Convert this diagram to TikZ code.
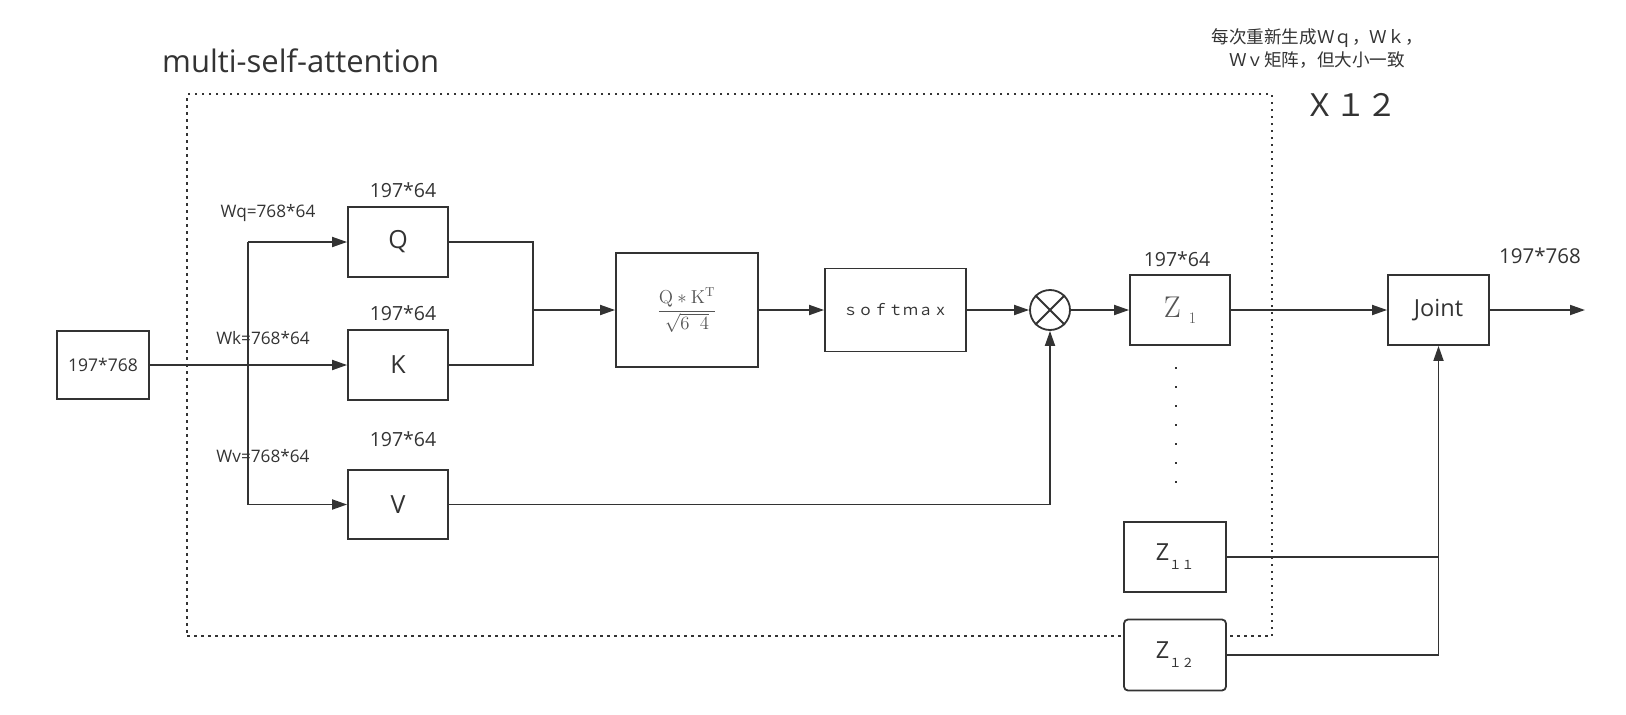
\documentclass[tikz,border=0pt]{standalone}
\usepackage{fontspec}
\newfontfamily\osf{Open Sans}
\newfontfamily\cjk{Noto Sans CJK SC}
\usetikzlibrary{arrows.meta}
\definecolor{ink}{HTML}{333333}
\definecolor{soft}{HTML}{555555}
\begin{document}
\begin{tikzpicture}[x=1pt,y=-1pt,
  ln/.style={draw=ink,line width=1.8pt},
  arr/.style={ln,-{Triangle[length=15pt,width=10pt]}},
  box/.style={ln,fill=white,text=ink,inner sep=0pt},
  lab/.style={text=ink,inner sep=0pt,font=\osf\fontsize{19.5}{22}\selectfont},
  wlab/.style={text=ink,inner sep=0pt,font=\osf\fontsize{17.2}{20}\selectfont},
  frame/.style={draw=ink,line width=1.8pt,dash pattern=on 2.5pt off 4.5pt,inner sep=0pt}]
\useasboundingbox (0,0) rectangle (1626,715);
\node[frame,minimum width=1085,minimum height=542] (fr) at (729.5,365) {};
% nodes
\node[box,minimum width=92,minimum height=68,font=\osf\fontsize{17.5}{20}\selectfont] (in) at (103,365) {197*768};
\node[box,minimum width=100,minimum height=70,font=\osf\fontsize{25}{30}\selectfont] (Q) at (398,242) {Q};
\node[box,minimum width=100,minimum height=70,font=\osf\fontsize{25}{30}\selectfont] (K) at (398,365) {K};
\node[box,minimum width=100,minimum height=69,font=\osf\fontsize{25}{30}\selectfont] (V) at (398,504.5) {V};
\node[box,minimum width=142,minimum height=114,text=soft,font=\fontsize{14.4}{17}\selectfont] (frac) at (687,310) {\scalebox{1.3}{$\displaystyle\frac{\mathrm{Q}\ast\mathrm{K}^{\mathrm{T}}}{\sqrt{6\;\;4}}$}};
\node[box,minimum width=141,minimum height=83,text=ink,font=\cjk\fontsize{15}{18}\selectfont] (sm) at (895.5,310) {ｓｏｆｔｍａｘ};
\node[box,circle,minimum size=40] (mul) at (1050,310) {};
\draw[ln] (mul.north west) -- (mul.south east);
\draw[ln] (mul.north east) -- (mul.south west);
\node[box,minimum width=100,minimum height=70,text=soft] (Z1) at (1180,310) {\rmfamily\fontsize{30}{34}\selectfont Z\hspace{8pt}\raisebox{-6pt}{\fontsize{16}{18}\selectfont 1}};
\node[box,minimum width=102,minimum height=70] (Z11) at (1175,556.7) {\osf\fontsize{23.5}{27}\selectfont Z\raisebox{-9pt}{\cjk\fontsize{12.5}{14}\selectfont １１}};
\node[box,rounded corners=4pt,minimum width=102,minimum height=71] (Z12) at (1175,655) {\osf\fontsize{23.5}{27}\selectfont Z\raisebox{-9pt}{\cjk\fontsize{12.5}{14}\selectfont １２}};
\node[box,minimum width=101,minimum height=70,font=\osf\fontsize{23.5}{28}\selectfont] (J) at (1438.5,310) {Joint};
% labels
\node[lab] (lq) at (403,190) {197*64};
\node[lab] (lk) at (403,313) {197*64};
\node[lab] (lv) at (403,439.5) {197*64};
\node[lab] (lz) at (1177,259) {197*64};
\node[lab,font=\osf\fontsize{20.5}{24}\selectfont] (lj) at (1540,256) {197*768};
\node[wlab] (wq) at (268,213) {Wq=768*64};
\node[wlab] (wk) at (263,338) {Wk=768*64};
\node[wlab] (wv) at (263,456) {Wv=768*64};
\node[anchor=base west,inner sep=0pt,text=ink,font=\osf\fontsize{31}{36}\selectfont] (title) at (162,72) {multi-self-attention};
\node[inner sep=0pt,text=ink,font=\cjk\fontsize{31}{36}\selectfont] (x12) at (1351,105) {Ｘ１２};
\node[inner sep=0pt,text=ink,align=center,font=\cjk\fontsize{17.6}{23}\selectfont] (note) at (1317,48) {每次重新生成Ｗｑ，Ｗｋ，\\Ｗｖ矩阵，但大小一致};
\foreach \k in {0,...,6} \fill[ink] (1175,366.7+19*\k) rectangle +(2.2,2.2);
% connectors
\coordinate (br) at (248,0);
\coordinate (jn) at (533,310);
\coordinate (out) at (1585,310);
\draw[arr] (in.east) -- (K.west);
\draw[ln] (br |- Q.west) -- (br |- V.west);
\draw[arr] (br |- Q.west) -- (Q.west);
\draw[arr] (br |- V.west) -- (V.west);
\draw[ln] (Q.east) -| (jn);
\draw[ln] (K.east) -| (jn);
\draw[arr] (jn) -- (frac.west);
\draw[arr] (frac.east) -- (sm.west);
\draw[arr] (sm.east) -- (mul.west);
\draw[arr] (V.east) -| (mul.south);
\draw[arr] (mul.east) -- (Z1.west);
\draw[arr] (Z1.east) -- (J.west);
\draw[arr] (J.east) -- (out);
\draw[ln] (Z11.east) -- (Z11.east -| J.south);
\draw[arr] (Z12.east) -| (J.south);
\end{tikzpicture}
\end{document}
